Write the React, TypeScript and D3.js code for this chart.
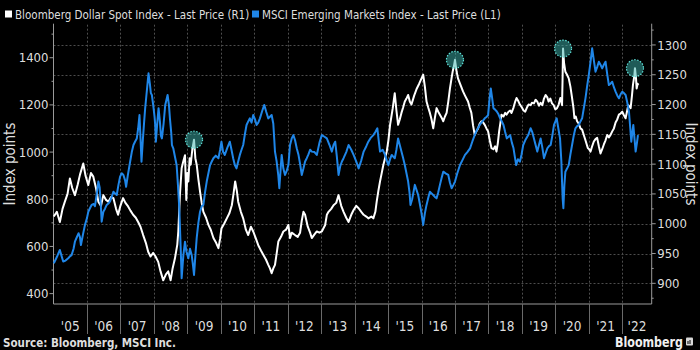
import React, { useEffect, useRef } from 'react';
import * as d3 from 'd3';

// Bloomberg Dollar Spot Index (right axis), [decimal year, value]
const usdSeries: [number, number][] = [
  [2005.01, 1012], [2005.1, 1020], [2005.19, 1003], [2005.27, 1025], [2005.34, 1037], [2005.42, 1050],
  [2005.49, 1076], [2005.56, 1060], [2005.64, 1048], [2005.72, 1065], [2005.79, 1082], [2005.89, 1101],
  [2005.96, 1080], [2006.04, 1065], [2006.12, 1085], [2006.19, 1079], [2006.27, 1060], [2006.34, 1037],
  [2006.42, 1030], [2006.49, 1048], [2006.57, 1040], [2006.64, 1037], [2006.72, 1045], [2006.79, 1043],
  [2006.87, 1025], [2006.93, 1015], [2007.0, 1030], [2007.08, 1043], [2007.15, 1035], [2007.23, 1029],
  [2007.3, 1022], [2007.38, 1015], [2007.46, 1010], [2007.53, 1003], [2007.6, 995], [2007.68, 981],
  [2007.76, 968], [2007.83, 953], [2007.9, 945], [2007.98, 951], [2008.05, 945], [2008.13, 936],
  [2008.2, 920], [2008.28, 905], [2008.36, 915], [2008.43, 920], [2008.5, 905], [2008.56, 925],
  [2008.63, 942], [2008.7, 965], [2008.73, 987], [2008.78, 1050], [2008.83, 1093], [2008.88, 1105],
  [2008.93, 1115], [2008.97, 1040], [2009.0, 1085], [2009.03, 1071], [2009.07, 1110], [2009.1, 1099],
  [2009.15, 1125], [2009.2, 1141], [2009.24, 1110], [2009.28, 1099], [2009.33, 1075], [2009.38, 1054],
  [2009.43, 1035], [2009.48, 1020], [2009.56, 1010], [2009.63, 998], [2009.7, 990], [2009.78, 976],
  [2009.86, 968], [2009.93, 959], [2009.98, 975], [2010.02, 992], [2010.1, 1000], [2010.18, 1009],
  [2010.26, 1018], [2010.33, 1031], [2010.38, 1050], [2010.43, 1071], [2010.48, 1055], [2010.52, 1037],
  [2010.6, 1020], [2010.67, 1009], [2010.75, 990], [2010.82, 981], [2010.9, 995], [2010.97, 987],
  [2011.05, 975], [2011.12, 964], [2011.2, 955], [2011.27, 948], [2011.35, 940], [2011.42, 931],
  [2011.47, 925], [2011.52, 917], [2011.57, 925], [2011.62, 931], [2011.67, 950], [2011.72, 970],
  [2011.8, 978], [2011.87, 987], [2011.95, 990], [2012.02, 998], [2012.07, 976], [2012.12, 985],
  [2012.22, 981], [2012.3, 978], [2012.37, 985], [2012.42, 1005], [2012.47, 1020], [2012.52, 1015],
  [2012.6, 995], [2012.67, 985], [2012.72, 976], [2012.8, 982], [2012.87, 987], [2012.95, 985],
  [2013.02, 987], [2013.12, 998], [2013.17, 1015], [2013.22, 1020], [2013.3, 1025], [2013.37, 1031],
  [2013.45, 1035], [2013.52, 1048], [2013.6, 1030], [2013.67, 1020], [2013.75, 1010], [2013.82, 1003],
  [2013.9, 1015], [2013.97, 1023], [2014.05, 1030], [2014.12, 1026], [2014.2, 1020], [2014.27, 1015],
  [2014.35, 1012], [2014.41, 1009], [2014.5, 1012], [2014.56, 1009], [2014.62, 1020], [2014.66, 1037],
  [2014.71, 1055], [2014.76, 1071], [2014.81, 1085], [2014.86, 1099], [2014.91, 1110], [2014.96, 1121],
  [2015.01, 1140], [2015.06, 1166], [2015.1, 1180], [2015.14, 1194], [2015.2, 1219], [2015.25, 1190],
  [2015.3, 1166], [2015.35, 1175], [2015.4, 1186], [2015.45, 1195], [2015.5, 1205], [2015.55, 1210],
  [2015.6, 1216], [2015.65, 1205], [2015.7, 1200], [2015.78, 1215], [2015.86, 1227], [2015.93, 1235],
  [2016.0, 1244], [2016.05, 1250], [2016.1, 1230], [2016.15, 1205], [2016.2, 1195], [2016.25, 1186],
  [2016.3, 1175], [2016.35, 1160], [2016.4, 1178], [2016.45, 1194], [2016.5, 1188], [2016.55, 1183],
  [2016.6, 1178], [2016.65, 1172], [2016.7, 1180], [2016.75, 1186], [2016.8, 1205], [2016.85, 1227],
  [2016.9, 1245], [2016.93, 1255], [2016.97, 1265], [2017.0, 1275], [2017.05, 1255], [2017.09, 1244],
  [2017.15, 1235], [2017.24, 1222], [2017.3, 1215], [2017.39, 1205], [2017.44, 1195], [2017.49, 1186],
  [2017.54, 1165], [2017.59, 1149], [2017.64, 1155], [2017.69, 1160], [2017.74, 1168], [2017.79, 1172],
  [2017.84, 1170], [2017.89, 1166], [2017.94, 1160], [2017.99, 1155], [2018.04, 1140], [2018.09, 1127],
  [2018.15, 1125], [2018.2, 1130], [2018.24, 1121], [2018.28, 1135], [2018.32, 1155], [2018.36, 1170],
  [2018.39, 1183], [2018.45, 1180], [2018.5, 1186], [2018.54, 1183], [2018.6, 1188], [2018.65, 1190],
  [2018.69, 1186], [2018.75, 1195], [2018.8, 1205], [2018.84, 1211], [2018.9, 1205], [2018.94, 1200],
  [2019.0, 1195], [2019.05, 1190], [2019.1, 1188], [2019.15, 1195], [2019.2, 1200], [2019.26, 1199],
  [2019.3, 1203], [2019.36, 1202], [2019.41, 1208], [2019.46, 1205], [2019.51, 1198], [2019.56, 1203],
  [2019.61, 1199], [2019.66, 1210], [2019.71, 1216], [2019.76, 1212], [2019.8, 1205], [2019.85, 1210],
  [2019.9, 1202], [2019.95, 1199], [2020.0, 1192], [2020.05, 1194], [2020.1, 1200], [2020.15, 1211],
  [2020.18, 1205], [2020.2, 1199], [2020.215, 1240], [2020.23, 1294], [2020.26, 1270], [2020.3, 1255],
  [2020.35, 1250], [2020.4, 1244], [2020.45, 1230], [2020.5, 1211], [2020.54, 1195], [2020.57, 1177],
  [2020.61, 1180], [2020.65, 1172], [2020.7, 1168], [2020.75, 1160], [2020.8, 1158], [2020.85, 1149],
  [2020.9, 1140], [2020.97, 1127], [2021.01, 1125], [2021.05, 1121], [2021.1, 1130], [2021.15, 1138],
  [2021.2, 1142], [2021.25, 1144], [2021.3, 1130], [2021.35, 1118], [2021.4, 1125], [2021.45, 1133],
  [2021.5, 1140], [2021.55, 1149], [2021.6, 1145], [2021.65, 1149], [2021.7, 1155], [2021.75, 1160],
  [2021.8, 1170], [2021.85, 1175], [2021.9, 1183], [2021.95, 1185], [2022.0, 1188], [2022.05, 1182],
  [2022.1, 1177], [2022.14, 1188], [2022.18, 1199], [2022.22, 1196], [2022.25, 1194], [2022.29, 1215],
  [2022.32, 1233], [2022.36, 1248], [2022.38, 1261], [2022.41, 1245], [2022.43, 1227], [2022.46, 1235],
  [2022.48, 1233],
];

// MSCI Emerging Markets Index (left axis), [decimal year, value]
const emSeries: [number, number][] = [
  [2005.01, 529], [2005.1, 555], [2005.19, 585], [2005.24, 560], [2005.29, 536], [2005.36, 540],
  [2005.44, 550], [2005.49, 558], [2005.54, 563], [2005.6, 590], [2005.64, 620], [2005.7, 640],
  [2005.75, 656], [2005.79, 640], [2005.82, 606], [2005.88, 650], [2005.94, 691], [2006.0, 720],
  [2006.04, 747], [2006.1, 765], [2006.14, 776], [2006.2, 780], [2006.24, 771], [2006.29, 820],
  [2006.34, 875], [2006.38, 850], [2006.42, 760], [2006.44, 705], [2006.49, 747], [2006.54, 760],
  [2006.59, 776], [2006.64, 782], [2006.69, 791], [2006.74, 810], [2006.79, 832], [2006.84, 825],
  [2006.89, 818], [2006.94, 860], [2006.99, 896], [2007.04, 910], [2007.09, 903], [2007.14, 880],
  [2007.17, 853], [2007.22, 900], [2007.29, 959], [2007.34, 1000], [2007.39, 1030], [2007.44, 1045],
  [2007.49, 1058], [2007.53, 1100], [2007.57, 1157], [2007.6, 1060], [2007.63, 959], [2007.67, 1050],
  [2007.71, 1130], [2007.74, 1186], [2007.79, 1260], [2007.84, 1334], [2007.88, 1290], [2007.91, 1250],
  [2007.94, 1242], [2007.98, 1200], [2008.02, 1150], [2008.04, 1115], [2008.06, 1044], [2008.1, 1120],
  [2008.14, 1186], [2008.18, 1130], [2008.21, 1070], [2008.24, 1058], [2008.29, 1120], [2008.34, 1200],
  [2008.41, 1242], [2008.45, 1200], [2008.48, 1143], [2008.52, 1080], [2008.54, 1030], [2008.58, 1016],
  [2008.63, 980], [2008.68, 945], [2008.72, 860], [2008.76, 762], [2008.8, 600], [2008.83, 465],
  [2008.88, 560], [2008.93, 620], [2008.97, 580], [2009.03, 550], [2009.08, 590], [2009.13, 564],
  [2009.17, 520], [2009.2, 479], [2009.24, 560], [2009.28, 635], [2009.33, 700], [2009.38, 747],
  [2009.43, 770], [2009.48, 776], [2009.53, 830], [2009.58, 875], [2009.63, 910], [2009.68, 945],
  [2009.73, 960], [2009.78, 974], [2009.85, 985], [2009.93, 974], [2009.98, 1010], [2010.02, 1044],
  [2010.07, 1000], [2010.12, 988], [2010.2, 1020], [2010.27, 1044], [2010.32, 1010], [2010.37, 974],
  [2010.42, 945], [2010.47, 931], [2010.52, 960], [2010.57, 988], [2010.62, 1010], [2010.67, 1030],
  [2010.72, 1075], [2010.77, 1115], [2010.82, 1130], [2010.87, 1143], [2010.92, 1125], [2010.97, 1157],
  [2011.02, 1140], [2011.07, 1115], [2011.12, 1125], [2011.17, 1143], [2011.24, 1175], [2011.3, 1200],
  [2011.36, 1170], [2011.42, 1143], [2011.47, 1150], [2011.52, 1157], [2011.57, 1120], [2011.6, 1050],
  [2011.62, 1002], [2011.67, 960], [2011.72, 900], [2011.75, 847], [2011.79, 930], [2011.82, 988],
  [2011.87, 930], [2011.92, 903], [2011.97, 920], [2012.02, 945], [2012.07, 1030], [2012.12, 1058],
  [2012.17, 1072], [2012.22, 1050], [2012.27, 1016], [2012.32, 990], [2012.37, 950], [2012.42, 903],
  [2012.47, 930], [2012.52, 960], [2012.57, 974], [2012.62, 990], [2012.67, 1010], [2012.72, 1002],
  [2012.8, 1000], [2012.87, 988], [2012.95, 1040], [2013.02, 1072], [2013.1, 1065], [2013.17, 1058],
  [2013.25, 1030], [2013.32, 1002], [2013.37, 1030], [2013.42, 1044], [2013.47, 980], [2013.52, 903],
  [2013.57, 940], [2013.62, 960], [2013.67, 974], [2013.75, 1000], [2013.82, 1030], [2013.9, 1010],
  [2013.97, 988], [2014.05, 960], [2014.12, 931], [2014.2, 965], [2014.27, 1002], [2014.35, 1025],
  [2014.41, 1044], [2014.48, 1060], [2014.56, 1072], [2014.62, 1085], [2014.68, 1101], [2014.72, 1050],
  [2014.76, 1002], [2014.84, 1010], [2014.91, 988], [2014.96, 965], [2015.01, 945], [2015.06, 970],
  [2015.11, 988], [2015.16, 980], [2015.2, 974], [2015.25, 1010], [2015.3, 1058], [2015.35, 1030],
  [2015.4, 1002], [2015.45, 975], [2015.5, 945], [2015.55, 910], [2015.6, 875], [2015.64, 830],
  [2015.67, 776], [2015.72, 800], [2015.76, 830], [2015.8, 861], [2015.85, 840], [2015.9, 818],
  [2015.95, 780], [2016.0, 740], [2016.05, 691], [2016.1, 740], [2016.15, 776], [2016.2, 805],
  [2016.25, 832], [2016.3, 825], [2016.35, 818], [2016.4, 810], [2016.45, 804], [2016.5, 830],
  [2016.55, 861], [2016.6, 890], [2016.65, 917], [2016.72, 910], [2016.8, 903], [2016.85, 870],
  [2016.9, 847], [2016.95, 860], [2017.0, 875], [2017.07, 910], [2017.15, 945], [2017.22, 965],
  [2017.3, 988], [2017.37, 1000], [2017.45, 1016], [2017.52, 1045], [2017.59, 1072], [2017.66, 1095],
  [2017.74, 1115], [2017.82, 1130], [2017.89, 1143], [2017.95, 1150], [2017.99, 1157], [2018.03, 1220],
  [2018.07, 1270], [2018.11, 1230], [2018.15, 1186], [2018.2, 1180], [2018.25, 1172], [2018.3, 1160],
  [2018.35, 1143], [2018.4, 1130], [2018.45, 1115], [2018.5, 1085], [2018.55, 1058], [2018.6, 1065],
  [2018.65, 1072], [2018.7, 1040], [2018.75, 1016], [2018.79, 980], [2018.83, 945], [2018.88, 970],
  [2018.94, 959], [2018.99, 990], [2019.04, 1030], [2019.1, 1050], [2019.19, 1072], [2019.26, 1101],
  [2019.31, 1085], [2019.36, 1058], [2019.41, 1030], [2019.46, 1002], [2019.51, 1030], [2019.56, 1058],
  [2019.61, 1020], [2019.66, 974], [2019.71, 995], [2019.76, 1016], [2019.81, 1025], [2019.86, 1030],
  [2019.91, 1070], [2019.96, 1115], [2020.04, 1143], [2020.09, 1100], [2020.14, 1058], [2020.18, 960],
  [2020.2, 875], [2020.22, 800], [2020.24, 762], [2020.27, 860], [2020.3, 917], [2020.35, 930],
  [2020.4, 945], [2020.45, 990], [2020.5, 1030], [2020.55, 1070], [2020.6, 1101], [2020.65, 1110],
  [2020.7, 1115], [2020.75, 1130], [2020.8, 1143], [2020.85, 1185], [2020.9, 1228], [2020.95, 1280],
  [2021.0, 1327], [2021.05, 1380], [2021.1, 1440], [2021.15, 1390], [2021.2, 1341], [2021.25, 1360],
  [2021.3, 1383], [2021.35, 1370], [2021.4, 1355], [2021.45, 1370], [2021.5, 1383], [2021.55, 1330],
  [2021.6, 1284], [2021.65, 1290], [2021.7, 1298], [2021.75, 1275], [2021.8, 1256], [2021.85, 1240],
  [2021.9, 1228], [2021.95, 1245], [2022.0, 1256], [2022.05, 1250], [2022.1, 1242], [2022.15, 1210],
  [2022.2, 1172], [2022.24, 1100], [2022.27, 1044], [2022.3, 1080], [2022.33, 1115], [2022.37, 1050],
  [2022.4, 1002], [2022.44, 1040], [2022.47, 1072],
];

// dollar index peaks highlighted with circles
const peakDates = [2009.2, 2017.0, 2020.23, 2022.38];
const peakValues = [1141, 1275, 1294, 1261];

const leftTicks = [400, 600, 800, 1000, 1200, 1400];
const leftMinor = [500, 700, 900, 1100, 1300, 1500];
const rightTicks = [900, 950, 1000, 1050, 1100, 1150, 1200, 1250, 1300];
const rightMinor = [875, 925, 975, 1025, 1075, 1125, 1175, 1225, 1275, 1325];
const years = d3.range(2005, 2023);
const yearLabels = years.map(y => `'${String(y).slice(2)}`);

const legendLabels = ['Bloomberg Dollar Spot Index - Last Price (R1)', 'MSCI Emerging Markets Index - Last Price (L1)'];

const FONT = "'DejaVu Sans Condensed', 'Liberation Sans Narrow', 'DejaVu Sans', sans-serif";
const WHITE = '#ffffff';
const BLUE = '#1f86e8';
const TEXT = '#dedede';
const AXIS = '#9a9a9a';

const App: React.FC = () => {
  const svgRef = useRef<SVGSVGElement>(null);

  useEffect(() => {
    if (!svgRef.current) return;
    const svg = d3.select(svgRef.current);
    svg.selectAll('*').remove();

    const left = 53.5, right = 651.7, top = 24.7, bottom = 304;

    const x = d3.scaleLinear().domain([2005, 2022.88]).range([left, right]);
    const yL = d3.scaleLinear().domain([356, 1540]).range([bottom, top]);
    const yR = d3.scaleLinear().domain([865.3, 1334]).range([bottom, top]);

    svg.append('rect').attr('width', 700).attr('height', 350).attr('fill', '#000');

    // Gridlines (dotted)
    const grid = svg.append('g').attr('stroke', '#4d4d4d').attr('stroke-dasharray', '2,2').attr('stroke-width', 1);
    grid.selectAll('.hg').data(rightTicks).enter().append('line')
      .attr('x1', left).attr('x2', right)
      .attr('y1', d => Math.round(yR(d)) + 0.5).attr('y2', d => Math.round(yR(d)) + 0.5);
    grid.selectAll('.vg').data(years.slice(1)).enter().append('line')
      .attr('x1', d => Math.round(x(d)) + 0.5).attr('x2', d => Math.round(x(d)) + 0.5)
      .attr('y1', top).attr('y2', bottom);

    // Axes lines
    svg.append('path')
      .attr('d', `M${left},${top - 1}V${bottom}H${right}V${top - 1}`)
      .attr('fill', 'none').attr('stroke', AXIS).attr('stroke-width', 1);

    // Year separators below the axis
    svg.append('g').selectAll('line').data(years.slice(1)).enter().append('line')
      .attr('x1', d => Math.round(x(d)) + 0.5).attr('x2', d => Math.round(x(d)) + 0.5)
      .attr('y1', bottom).attr('y2', 334)
      .attr('stroke', '#6a6a6a').attr('stroke-width', 1);

    // Year labels centred in each year
    svg.append('g').selectAll('text').data(years).enter().append('text')
      .attr('x', d => (x(d) + x(Math.min(d + 1, 2022.88))) / 2)
      .attr('y', 331)
      .attr('text-anchor', 'middle')
      .style('font-family', FONT).style('font-size', '13.5px').style('fill', TEXT)
      .text((_, i) => yearLabels[i]);

    // Left axis ticks
    const la = svg.append('g');
    la.selectAll('.maj').data(leftTicks).enter().append('line')
      .attr('x1', left - 4).attr('x2', left).attr('y1', d => yL(d)).attr('y2', d => yL(d))
      .attr('stroke', AXIS);
    la.selectAll('.min').data(leftMinor).enter().append('line')
      .attr('x1', left - 2).attr('x2', left).attr('y1', d => yL(d)).attr('y2', d => yL(d))
      .attr('stroke', AXIS);
    la.selectAll('text').data(leftTicks).enter().append('text')
      .attr('x', left - 5).attr('y', d => yL(d)).attr('dy', '0.35em')
      .attr('text-anchor', 'end')
      .style('font-family', FONT).style('font-size', '13px').style('fill', TEXT)
      .text(d => d);

    // Right axis ticks
    const ra = svg.append('g');
    ra.selectAll('.maj').data(rightTicks).enter().append('line')
      .attr('x1', right).attr('x2', right + 4).attr('y1', d => yR(d)).attr('y2', d => yR(d))
      .attr('stroke', AXIS);
    ra.selectAll('.min').data(rightMinor).enter().append('line')
      .attr('x1', right).attr('x2', right + 2).attr('y1', d => yR(d)).attr('y2', d => yR(d))
      .attr('stroke', AXIS);
    ra.selectAll('text').data(rightTicks).enter().append('text')
      .attr('x', right + 5.5).attr('y', d => yR(d)).attr('dy', '0.35em')
      .style('font-family', FONT).style('font-size', '13px').style('fill', TEXT)
      .text(d => d);

    // Axis titles
    svg.append('text')
      .attr('transform', `translate(15, 164) rotate(-90)`)
      .attr('text-anchor', 'middle')
      .style('font-family', FONT).style('font-size', '15px').style('fill', TEXT)
      .text('Index points');
    svg.append('text')
      .attr('transform', `translate(686, 164) rotate(90)`)
      .attr('text-anchor', 'middle')
      .style('font-family', FONT).style('font-size', '15px').style('fill', TEXT)
      .text('Index points');

    // Lines
    const plot = svg.append('g');
    const usdLine = d3.line<[number, number]>().x(d => x(d[0])).y(d => yR(d[1]));
    const emLine = d3.line<[number, number]>().x(d => x(d[0])).y(d => yL(d[1]));

    plot.append('path').datum(usdSeries)
      .attr('d', usdLine).attr('fill', 'none').attr('stroke', WHITE)
      .attr('stroke-width', 2).attr('stroke-linejoin', 'round');
    plot.append('path').datum(emSeries)
      .attr('d', emLine).attr('fill', 'none').attr('stroke', BLUE)
      .attr('stroke-width', 2).attr('stroke-linejoin', 'round');

    // Peak markers
    plot.selectAll('circle').data(peakDates).enter().append('circle')
      .attr('cx', d => x(d)).attr('cy', (_, i) => yR(peakValues[i]))
      .attr('r', 8.5)
      .attr('fill', 'rgba(62,182,176,0.5)')
      .attr('stroke', '#5fe0d8').attr('stroke-width', 1.2).attr('stroke-dasharray', '1.5,1.5');

    // Legend
    const lg = svg.append('g');
    lg.append('rect').attr('x', 5).attr('y', 10.5).attr('width', 7).attr('height', 7).attr('fill', WHITE);
    lg.append('text').attr('x', 15).attr('y', 18.5)
      .style('font-family', FONT).style('font-size', '11.5px').style('fill', TEXT)
      .text(legendLabels[0]);
    lg.append('rect').attr('x', 252).attr('y', 10.5).attr('width', 7).attr('height', 7).attr('fill', BLUE);
    lg.append('text').attr('x', 262).attr('y', 18.5)
      .style('font-family', FONT).style('font-size', '11.5px').style('fill', TEXT)
      .text(legendLabels[1]);

    // Footer
    svg.append('text').attr('x', 3).attr('y', 346.5)
      .style('font-family', FONT).style('font-size', '11.5px').style('font-weight', 'bold').style('fill', TEXT)
      .text('Source: Bloomberg, MSCI Inc.');
    svg.append('text').attr('x', 615).attr('y', 347)
      .attr('textLength', 68).attr('lengthAdjust', 'spacingAndGlyphs')
      .style('font-family', FONT).style('font-size', '14px').style('font-weight', '600').style('fill', '#f0f0f0')
      .text('Bloomberg');
    svg.append('rect').attr('x', 686).attr('y', 337.5).attr('width', 7).attr('height', 8).attr('rx', 1).attr('fill', '#d8d8d8');
    svg.append('path').attr('d', 'M688,344V341M690,344V340').attr('stroke', '#000').attr('stroke-width', 1);
  }, []);

  return (
    <svg ref={svgRef} width={700} height={350}
      style={{ position: 'absolute', left: 0, top: 0, display: 'block' }} />
  );
};

export default App;
